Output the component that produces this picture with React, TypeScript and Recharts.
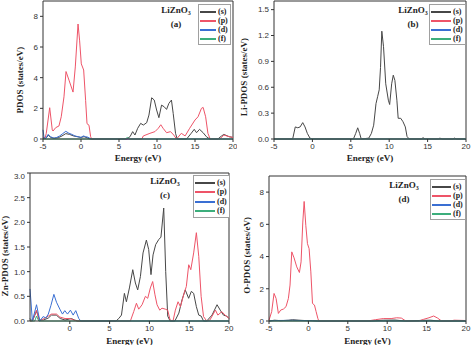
import { LineChart, Line, XAxis, YAxis, ReferenceLine } from "recharts"

type Pt = [number, number]

const energyTicks = [-5, 0, 5, 10, 15, 20]
const orbitals = ["(s)", "(p)", "(d)", "(f)"]
const colors = ["#474747", "#ee5468", "#3a6fd3", "#3cae7c"]
const flat: Pt[] = [[-5, 0], [20, 0]]

// (a) total PDOS
const aS: Pt[] = [[-5, 0.05], [-4.6, 0.05], [-4.3, 0.25], [-4, 0.1], [-3.5, 0.05], [-3, 0.08], [-2.5, 0.2], [-2, 0.35], [-1.5, 0.3], [-1, 0.2], [-0.5, 0.15], [0, 0.1], [0.4, 0.15], [0.8, 0.08], [1.2, 0], [6, 0], [6.45, 0.15], [6.8, 0.48], [7.1, 0.26], [7.46, 0.7], [7.85, 1.02], [8.2, 0.91], [8.64, 1.06], [8.94, 1.56], [9.3, 2.69], [9.64, 2.54], [9.95, 1.89], [10.25, 1.39], [10.6, 2.21], [10.95, 2.1], [11.26, 1.93], [11.56, 2.32], [11.9, 2.54], [12.13, 1.67], [12.44, 0.37], [12.66, 0], [13.9, 0], [14.5, 0.37], [14.9, 0.63], [15.2, 0.41], [15.6, 0.63], [16.07, 0.41], [16.5, 0.15], [16.94, 0], [18, 0], [18.5, 0.2], [18.8, 0.3], [19.5, 0.15], [20, 0.1]]
const aP: Pt[] = [[-5, 0.1], [-4.7, 0.1], [-4.57, 0.37], [-4.12, 2.04], [-3.78, 0.59], [-3.68, 0.52], [-3.33, 0.74], [-2.9, 0.85], [-2.6, 1.45], [-2.24, 2.75], [-1.97, 4.4], [-1.58, 3.84], [-1.05, 3.06], [-0.75, 4.7], [-0.39, 7.5], [-0.18, 6.4], [0.04, 4.9], [0.35, 4.5], [0.61, 2.5], [0.79, 1.0], [1.05, 0.9], [1.27, 0.15], [1.4, 0], [8, 0], [8.2, 0.2], [9.07, 0.37], [9.73, 0.48], [10.17, 0.7], [10.5, 0.93], [10.8, 0.7], [11.26, 0.41], [11.78, 0.48], [12.2, 0.26], [12.57, 0], [13.2, 0.37], [13.7, 0.2], [14.3, 0.7], [15, 1.24], [15.4, 1.45], [15.85, 2.0], [16.07, 2.06], [16.4, 1.45], [16.7, 0.37], [17, 0], [18.25, 0], [18.8, 0.26], [19.5, 0.15], [20, 0.1]]
const aD: Pt[] = [[-5, 0.6], [-4.85, 0.05], [-4.6, 0.05], [-4.34, 0.3], [-4, 0.15], [-3.6, 0.05], [-3.2, 0.1], [-2.8, 0.2], [-2.4, 0.35], [-2, 0.5], [-1.6, 0.38], [-1.2, 0.3], [-0.8, 0.2], [-0.4, 0.15], [0, 0.1], [0.3, 0.2], [0.6, 0.15], [0.9, 0.12], [1.2, 0.03], [1.5, 0], [20, 0]]
const aF: Pt[] = [[-5, 0], [5.8, 0], [6.1, 0.1], [6.4, 0], [20, 0]]

// (b) Li
const bS: Pt[] = [[-5, 0], [-2.57, 0], [-2.23, 0.14], [-1.9, 0.13], [-1.6, 0.14], [-1.26, 0.19], [-0.96, 0.14], [-0.66, 0.065], [-0.32, 0.01], [0, 0], [5.34, 0], [5.64, 0.065], [5.9, 0.13], [6.15, 0.065], [6.36, 0], [7.34, 0.01], [7.68, 0.065], [7.98, 0.16], [8.28, 0.41], [8.49, 0.49], [8.7, 0.57], [8.87, 0.83], [9.04, 1.25], [9.26, 1.07], [9.55, 0.64], [9.89, 0.45], [10.06, 0.4], [10.32, 0.64], [10.53, 0.74], [10.74, 0.68], [11.0, 0.45], [11.17, 0.24], [11.5, 0.24], [11.8, 0.2], [12.1, 0.14], [12.32, 0.03], [12.6, 0], [14.2, 0], [14.4, 0.015], [14.7, 0], [16.4, 0], [16.6, 0.01], [16.9, 0], [18.3, 0], [18.5, 0.01], [18.8, 0], [20, 0]]

// (c) Zn
const cS: Pt[] = [[-5, 0.05], [-4.7, 0], [-4.18, 0.2], [-3.8, 0.02], [-3.3, 0.02], [-2.7, 0.06], [-2.3, 0.12], [-1.7, 0.12], [-1.2, 0.05], [-0.6, 0.02], [0.2, 0.05], [0.6, 0.02], [1, 0], [5.8, 0], [6.15, 0.05], [6.49, 0.12], [6.86, 0.56], [7.11, 0.39], [7.49, 0.67], [7.91, 1.04], [8.24, 0.77], [8.53, 0.63], [8.87, 0.9], [9.2, 1.38], [9.62, 1.64], [9.91, 1.45], [10.2, 0.94], [10.46, 1.34], [10.79, 1.55], [11.17, 1.65], [11.45, 1.7], [11.8, 2.29], [12.05, 1.0], [12.3, 0.1], [12.6, 0], [13.2, 0], [13.7, 0.16], [14.1, 0.43], [14.5, 0.63], [14.93, 0.46], [15.27, 0.6], [15.56, 0.56], [15.9, 0.29], [16.2, 0.12], [16.5, 0.1], [16.8, 0], [17.2, 0], [17.87, 0.12], [18.5, 0.33], [18.9, 0.22], [19.3, 0.12], [19.7, 0.1], [20, 0.05]]
const cP: Pt[] = [[-5, 0], [-4.7, 0], [-4.18, 0.22], [-3.85, 0], [-3.35, 0.04], [-2.7, 0.1], [-2.3, 0.14], [-1.67, 0.14], [-1.25, 0.08], [-0.6, 0.05], [0, 0.05], [0.5, 0.02], [0.9, 0], [7.61, 0], [8.03, 0.19], [8.37, 0.36], [8.66, 0.24], [9.08, 0.33], [9.5, 0.5], [9.79, 0.46], [10.12, 0.67], [10.41, 0.8], [10.7, 0.53], [10.96, 0.33], [11.3, 0.22], [11.58, 0.26], [12.0, 0.24], [12.3, 0.22], [12.6, 0.02], [12.97, 0], [13.26, 0.22], [13.6, 0.39], [13.9, 0.29], [14.3, 0.53], [14.64, 0.7], [14.94, 1.14], [15.2, 1.04], [15.56, 1.38], [15.9, 1.79], [16.2, 1.31], [16.5, 0.5], [16.8, 0.09], [17.2, 0], [17.6, 0.02], [18.3, 0.22], [18.6, 0.12], [19.1, 0.19], [19.5, 0.12], [19.9, 0.07], [20, 0.06]]
const cD: Pt[] = [[-5, 0.65], [-4.7, 0], [-4.18, 0.33], [-3.76, 0], [-3.35, 0.09], [-3.0, 0.06], [-2.7, 0.14], [-2.38, 0.31], [-2.0, 0.54], [-1.67, 0.38], [-1.25, 0.24], [-0.92, 0.14], [-0.63, 0.21], [-0.29, 0.14], [0.08, 0.22], [0.42, 0.12], [0.75, 0.21], [1.13, 0.05], [1.38, 0], [20, 0]]
const cF: Pt[] = [[-5, 0], [-4.4, 0], [-4.18, 0.1], [-3.9, 0], [20, 0]]

// (d) O
const dS: Pt[] = [[-5, 0], [-4.3, 0.05], [-3.5, 0.02], [-2.5, 0.05], [-2, 0.08], [-1.2, 0.05], [-0.5, 0.03], [0.5, 0.02], [1.2, 0], [8, 0], [9.5, 0.05], [11, 0.06], [12.3, 0], [14.5, 0.04], [15.5, 0.05], [16.5, 0], [20, 0]]
const dP: Pt[] = [[-5, 0.05], [-4.66, 0.58], [-4.36, 1.71], [-4.1, 1.4], [-3.81, 0.47], [-3.51, 0.68], [-3.17, 0.74], [-2.84, 0.89], [-2.54, 1.4], [-2.33, 2.23], [-2.11, 4.29], [-1.82, 3.92], [-1.48, 3.36], [-1.14, 3.01], [-0.93, 3.67], [-0.71, 6.14], [-0.54, 7.42], [-0.33, 5.94], [-0.12, 4.8], [0.09, 4.49], [0.31, 3.05], [0.52, 1.09], [0.77, 0.99], [0.98, 0.58], [1.2, 0.16], [1.32, 0], [7.5, 0], [8.5, 0.08], [9.5, 0.15], [10.5, 0.15], [11.2, 0.2], [11.8, 0.18], [12.3, 0.02], [12.7, 0], [14, 0], [14.6, 0.1], [15.3, 0.2], [15.9, 0.31], [16.4, 0.18], [16.9, 0], [18, 0], [18.5, 0.05], [20, 0.03]]
const dD: Pt[] = [[-5, 0], [-4.3, 0.03], [-2, 0.04], [0, 0.02], [1.2, 0], [20, 0]]

const toRows = (pts: Pt[]) => pts.map(([x, y]) => ({ x, y }))

const serif = "'Liberation Serif', 'DejaVu Serif', serif"
const sans = "'Liberation Sans', Arial, sans-serif"
const tickStyle = { fill: "#333", fontSize: 8, fontFamily: sans }
const axisColor = "#333"

interface PanelProps {
  left: number
  top: number
  height: number
  margin: { top: number; right: number; left: number; bottom: number }
  yWidth: number
  xHeight: number
  yMax: number
  yTicks: number[]
  decimals: number
  xTicks: number[]
  yLabel: string
  yLabelOffset: number
  yLabelDy: number
  xLabelOffset: number
  series: Pt[][]
}

function Panel(p: PanelProps) {
  return (
    <div style={{ position: "absolute", left: p.left, top: p.top }}>
      <LineChart width={237} height={p.height} margin={p.margin}>
        <XAxis
          dataKey="x"
          type="number"
          domain={[-5, 20]}
          ticks={p.xTicks}
          allowDuplicatedCategory={false}
          height={p.xHeight}
          stroke={axisColor}
          tickSize={3}
          tickMargin={1}
          tick={tickStyle}
          label={{
            value: "Energy (eV)",
            position: "insideBottom",
            offset: p.xLabelOffset,
            style: { fontFamily: serif, fontWeight: 700, fontSize: 9, fill: "#222" },
          }}
        />
        <YAxis
          type="number"
          domain={[0, p.yMax]}
          ticks={p.yTicks}
          width={p.yWidth}
          stroke={axisColor}
          tickSize={3}
          tickMargin={2}
          tick={tickStyle}
          tickFormatter={(v: number) => v.toFixed(p.decimals)}
          label={{
            value: p.yLabel,
            angle: -90,
            position: "insideLeft",
            offset: p.yLabelOffset,
            dy: p.yLabelDy,
            style: { textAnchor: "middle", fontFamily: serif, fontWeight: 700, fontSize: 9, fill: "#222" },
          }}
        />
        <ReferenceLine y={p.yMax} stroke={axisColor} strokeWidth={1} />
        <ReferenceLine x={20} stroke={axisColor} strokeWidth={1} />
        {p.series.map((pts, i) => (
          <Line
            key={i}
            data={toRows(pts)}
            dataKey="y"
            type="linear"
            stroke={colors[i]}
            strokeWidth={1}
            dot={false}
            isAnimationActive={false}
          />
        ))}
      </LineChart>
    </div>
  )
}

function Title({ left, top, tag }: { left: number; top: number; tag: string }) {
  return (
    <div
      style={{
        position: "absolute",
        left,
        top,
        fontFamily: serif,
        fontWeight: 700,
        fontSize: 9,
        lineHeight: "11px",
        color: "#222",
        textAlign: "center",
        width: 30,
      }}
    >
      <div>
        LiZnO<sub style={{ fontSize: 6, verticalAlign: "-2px" }}>3</sub>
      </div>
      <div>{tag}</div>
    </div>
  )
}

function Legend({ left, top, width, rowGap }: { left: number; top: number; width: number; rowGap: number }) {
  return (
    <div
      style={{
        position: "absolute",
        left,
        top,
        width,
        border: "1px solid #a0a0a0",
        background: "#fff",
        padding: "2px 0 1px 1px",
        boxSizing: "border-box",
      }}
    >
      {orbitals.map((o, i) => (
        <div key={o} style={{ display: "flex", alignItems: "center", height: rowGap }}>
          <span style={{ display: "inline-block", width: width - 17, height: 2, background: colors[i] }} />
          <span
            style={{ marginLeft: 2, fontFamily: serif, fontWeight: 700, fontSize: 8, color: "#222", lineHeight: "8px" }}
          >
            {o}
          </span>
        </div>
      ))}
    </div>
  )
}

export default function App() {
  return (
    <div style={{ position: "fixed", left: 0, top: 0, width: 474, height: 345, background: "#fff", overflow: "hidden" }}>
      <Panel
        left={0}
        top={0}
        height={172}
        margin={{ top: 1, right: 4, left: 0, bottom: 0 }}
        yWidth={43}
        xHeight={33}
        yMax={9}
        yTicks={[0, 2, 4, 6, 8]}
        decimals={0}
        xTicks={energyTicks}
        yLabel="PDOS (states/eV)"
        yLabelOffset={20}
        yLabelDy={10}
        xLabelOffset={11}
        series={[aS, aP, aD, aF]}
      />
      <Panel
        left={237}
        top={0}
        height={172}
        margin={{ top: 1, right: 8, left: 0, bottom: 0 }}
        yWidth={37}
        xHeight={33}
        yMax={1.6}
        yTicks={[0, 0.3, 0.6, 0.9, 1.2, 1.5]}
        decimals={1}
        xTicks={energyTicks}
        yLabel="Li-PDOS (states/eV)"
        yLabelOffset={7}
        yLabelDy={7}
        xLabelOffset={11}
        series={[bS, flat, flat, flat]}
      />
      <Panel
        left={0}
        top={172}
        height={173}
        margin={{ top: 1, right: 8, left: 0, bottom: 0 }}
        yWidth={30}
        xHeight={24}
        yMax={3}
        yTicks={[0, 0.5, 1, 1.5, 2, 2.5, 3]}
        decimals={1}
        xTicks={[0, 5, 10, 15, 20]}
        yLabel="Zn-PDOS (states/eV)"
        yLabelOffset={5}
        yLabelDy={9}
        xLabelOffset={1}
        series={[cS, cP, cD, cF]}
      />
      <Panel
        left={237}
        top={172}
        height={173}
        margin={{ top: 4, right: 8, left: 0, bottom: 0 }}
        yWidth={32}
        xHeight={24}
        yMax={9}
        yTicks={[0, 2, 4, 6, 8]}
        decimals={0}
        xTicks={energyTicks}
        yLabel="O-PDOS (states/eV)"
        yLabelOffset={10}
        yLabelDy={7}
        xLabelOffset={1}
        series={[dS, dP, dD, flat]}
      />
      <Title left={161} top={5} tag="(a)" />
      <Title left={398} top={5} tag="(b)" />
      <Title left={150} top={176} tag="(c)" />
      <Title left={389} top={180} tag="(d)" />
      <Legend left={198} top={4} width={33} rowGap={9} />
      <Legend left={429} top={4} width={37} rowGap={9} />
      <Legend left={193} top={175} width={37} rowGap={9.5} />
      <Legend left={430} top={179} width={36} rowGap={9} />
    </div>
  )
}
